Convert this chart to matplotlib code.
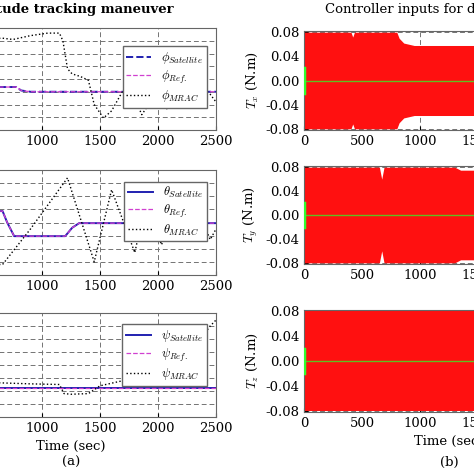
import numpy as np
import matplotlib
matplotlib.use("Agg")
from matplotlib import pyplot as plt

plt.rcParams["font.family"] = "DejaVu Serif"
plt.rcParams["mathtext.fontset"] = "cm"
plt.rcParams["font.size"] = 9.5

# ---- attitude tracking (a) ----
phi_t = [0, 660, 780, 820, 900, 2500]
phi_sat = [-6.3, -6.3, -6.3, -9.0, -10.0, -10.0]
phi_mrac_t = [0, 660, 750, 900, 1050, 1150, 1180, 1220, 1260, 1330, 1400, 1450, 1530, 1600, 1720,
              1800, 1860, 1920, 1990, 2040, 2080, 2130, 2180, 2220, 2260, 2330, 2400, 2450, 2500]
phi_mrac = [30, 32, 31, 34, 36, 36, 30, 8, 4, 2, -1, -20, -30.6, -25, -5.5,
            -15, -28, -20, -8, -15, -24, -16, -8.6, -13, -21, -14, -8, -12, -18]

theta_t = [0, 660, 700, 760, 1200, 1260, 1320, 2500]
theta_sat = [8.7, 8.7, 0, -10.4, -10.4, -4, -0.5, -0.5]
theta_mrac_t = [0, 660, 900, 1220, 1450, 1600, 1800, 1900, 2030, 2150, 2250, 2350, 2450, 2500]
theta_mrac = [-32, -32, -5, 34, -30, 25, -23, 18, -17, 10, -15, 8, -13, -5]

psi_t = [0, 2500]
psi_sat = [-17.7, -17.7]
psi_mrac_t = [0, 660, 900, 1150, 1190, 1250, 1400, 1500, 1700, 1850, 2100, 2400, 2450, 2500]
psi_mrac = [-12, -13.8, -14.5, -15, -22, -22.5, -22, -16, -12, -6, 5, 24, 30, 34.6]

# ---- controller inputs (b): envelope of the red oscillation ----
tx_t = [0, 405, 420, 435, 800, 820, 860, 950, 2500]
tx_env = [0.08, 0.08, 0.072, 0.08, 0.08, 0.07, 0.062, 0.058, 0.058]
ty_t = [0, 650, 670, 690, 1300, 1350, 2500]
ty_env = [0.08, 0.08, 0.06, 0.08, 0.08, 0.075, 0.075]
tz_t = [0, 2500]
tz_env = [0.08, 0.08]

W = 474.0


def ax_at(fig, x0, x1, y0, y1):
    return fig.add_axes([x0 / W, 1 - y1 / W, (x1 - x0) / W, (y1 - y0) / W])


def style(ax):
    ax.grid(True, color="0.45", linestyle=(0, (5, 3)), linewidth=0.7)
    for s in ax.spines.values():
        s.set_color("0.4")
    ax.tick_params(direction="in", length=3, colors="black")


fig = plt.figure(figsize=(4.74, 4.74), dpi=100)

left_rows = [(28, 130), (170, 275), (313, 417)]
right_rows = [(31, 130), (166, 264), (310, 412)]

sym = ["\\phi", "\\theta", "\\psi"]
sat_ls = ["--", "-", "-"]
sets = [(phi_t, phi_sat, phi_mrac_t, phi_mrac),
        (theta_t, theta_sat, theta_mrac_t, theta_mrac),
        (psi_t, psi_sat, psi_mrac_t, psi_mrac)]

for i, (t0, t1) in enumerate(left_rows):
    ax = ax_at(fig, -74, 216, t0, t1)
    ts, ys, tm, ym = sets[i]
    ax.plot(ts, ys, color="#2020b0", linestyle=sat_ls[i], linewidth=1.4,
            label=rf"${sym[i]}_{{Satellite}}$")
    ax.plot(ts, ys, color="#d040d0", linestyle="--", linewidth=0.9,
            label=rf"${sym[i]}_{{Ref.}}$")
    ax.plot(tm, ym, color="black", linestyle=":", linewidth=1.0,
            label=rf"${sym[i]}_{{MRAC}}$")
    ax.set_xlim(0, 2500)
    ax.set_ylim(-40, 40)
    ax.set_xticks([0, 500, 1000, 1500, 2000, 2500])
    ax.set_yticks(np.arange(-40, 41, 10))
    ax.set_yticklabels([])
    style(ax)
    ax.legend(loc="upper right", bbox_to_anchor=(0.99, 0.88 if i == 0 else 0.95),
              fontsize=9, fancybox=False, edgecolor="0.4", framealpha=1,
              handlelength=2.0, borderpad=0.3, labelspacing=0.2)
    if i == 2:
        ax.set_xlabel("Time (sec)")

envs = [(tx_t, tx_env, "x"), (ty_t, ty_env, "y"), (tz_t, tz_env, "z")]
for i, (t0, t1) in enumerate(right_rows):
    ax = ax_at(fig, 304, 594, t0, t1)
    tt, ee, k = envs[i]
    ee = np.array(ee)
    ax.fill_between(tt, -ee, ee, color="#ff1010", linewidth=0, zorder=2)
    ax.plot([0, 2500], [0, 0], color="#60c020", linewidth=1.0, zorder=3)
    ax.plot([0, 0, 0], [-0.02, 0, 0.02], color="#30ff30", linewidth=2.5, zorder=3)
    ax.set_xlim(0, 2500)
    ax.set_ylim(-0.082, 0.082)
    ax.set_xticks([0, 500, 1000, 1500, 2000, 2500])
    ax.set_yticks([-0.08, -0.04, 0.0, 0.04, 0.08])
    ax.set_yticklabels(["-0.08", "-0.04", "0.00", "0.04", "0.08"])
    style(ax)
    ax.set_ylabel(rf"$T_{k}$ (N.m)")
    if i == 2:
        ax.set_xlabel("Time (sec)")

fig.text(71 / W, 1 - 9 / W, "Attitude tracking maneuver", ha="center", va="center",
         fontweight="bold")
fig.text(449 / W, 1 - 9 / W, "Controller inputs for desired attitude", ha="center",
         va="center")
fig.text(71 / W, 1 - 462 / W, "(a)", ha="center", va="center")
fig.text(449 / W, 1 - 462 / W, "(b)", ha="center", va="center")

fig.savefig("out.png", dpi=100)
